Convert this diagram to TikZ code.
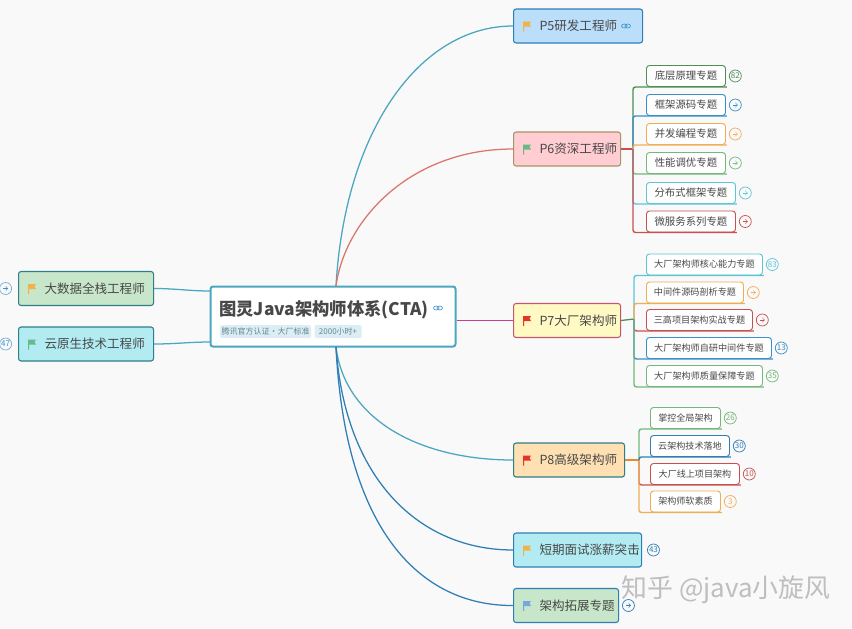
\documentclass[tikz,border=0pt]{standalone}
\usepackage{fontspec}
\setmainfont{Noto Sans CJK SC}
\usetikzlibrary{positioning}
\newlength\px
\setlength\px{0.75pt}
\definecolor{inkgray}{HTML}{484848}
\definecolor{pagegray}{HTML}{F9F9FA}
\definecolor{marktone}{HTML}{BEBEBE}
\definecolor{tealline}{HTML}{4BA6BF}
\definecolor{bluedeep}{HTML}{2F7FB5}
\definecolor{greendeep}{HTML}{4E8F55}
\definecolor{bluemid}{HTML}{3A8FC8}
\definecolor{orangesoft}{HTML}{EFAE55}
\definecolor{greensoft}{HTML}{74B87A}
\definecolor{cyansoft}{HTML}{5CC6D6}
\definecolor{redsoft}{HTML}{C9504F}
\definecolor{orangedeep}{HTML}{E8872E}
\definecolor{pinkline}{HTML}{C2408F}
\definecolor{salmonline}{HTML}{DB766B}
\definecolor{fillblue}{HTML}{BBDEFB}
\definecolor{fillpink}{HTML}{FFCDD2}
\definecolor{fillyellow}{HTML}{FFF9C4}
\definecolor{fillorange}{HTML}{FFE0B2}
\definecolor{fillcyan}{HTML}{B2EBF2}
\definecolor{fillgreen}{HTML}{C8E6C9}
\definecolor{edgeolive}{HTML}{A8936A}
\definecolor{edgerose}{HTML}{C4566E}
\definecolor{edgeteal}{HTML}{2F7F86}
\definecolor{flagorange}{HTML}{F2B24A}
\definecolor{flaggreen}{HTML}{66BB8A}
\definecolor{flagred}{HTML}{E5332A}
\definecolor{flagblue}{HTML}{74A8E0}
\definecolor{tagfill}{HTML}{DCEEF3}
\definecolor{tagtext}{HTML}{5E8796}
\newcommand{\golink}{\tikz\draw[-to,line width=.4pt](0,0)--(5\px,0);}
\tikzset{
topicbox/.style={rounded corners=2.5\px,line width=.8pt,inner xsep=0pt,inner ysep=0pt,minimum height=34\px,anchor=west,text=inkgray,font=\fontsize{9.4pt}{11pt}\selectfont},
subbox/.style={rounded corners=3\px,line width=.7pt,fill=white,inner sep=0pt,minimum height=21\px,anchor=west,text=inkgray,font=\fontsize{7.8pt}{9pt}\selectfont},
badge/.style={circle,line width=.55pt,inner sep=0pt,minimum size=12\px,font=\fontsize{6pt}{6pt}\selectfont},
tagbox/.style={fill=tagfill,text=tagtext,rounded corners=1.5\px,inner sep=0pt,minimum height=13\px,font=\fontsize{6pt}{7pt}\selectfont},
branch/.style={rounded corners=2.5\px,line width=1.05pt},
limb/.style={line width=.95pt},
}
\begin{document}
\begin{tikzpicture}[x=0.75pt,y=-0.75pt]
\useasboundingbox (0,0) rectangle (852,628);
\fill[pagegray] (0,0) rectangle (852,628);

\node[draw=tealline,line width=1.5pt,fill=white,rounded corners=2.5\px,inner sep=0pt,minimum width=245\px,minimum height=60\px](root) at (333,316.5){};
\node[anchor=west,inner sep=0pt,text=inkgray,font=\fontsize{13pt}{15pt}\selectfont\bfseries](roottitle) at (219,309.5){图灵Java架构师体系(CTA)};
\node[tagbox,minimum width=91\px](tagone) at (265.5,331.5){腾讯官方认证·大厂标准};
\node[tagbox,minimum width=47\px,right=3\px of tagone](tagtwo){2000小时+};
\coordinate (rootup) at (336,286);
\coordinate (rootdown) at (336,347);
\coordinate (rootleftup) at (210,291);
\coordinate (rootleftdown) at (210,342);

\foreach \n/\lab/\x/\y/\w/\f/\d/\k in {p5/P5研发工程师/513/26/129/fillblue/bluedeep/flagorange,p6/P6资深工程师/513/149/107/fillpink/edgeolive/flaggreen,p7/P7大厂架构师/513/320.5/107/fillyellow/edgerose/flagred,p8/P8高级架构师/513/460/111/fillorange/edgeteal/flagred,short/短期面试涨薪突击/513/550/128/fillcyan/bluedeep/flagorange,extend/架构拓展专题/513/605.5/105/fillgreen/bluedeep/flagblue,bigdata/大数据全栈工程师/18/288.5/135/fillgreen/edgeteal/flagorange,cloud/云原生技术工程师/18/344/135/fillcyan/edgeteal/flaggreen}{
\node[topicbox,fill=\f,draw=\d](\n) at (\x,\y){\makebox[\w\px][l]{\hspace{26\px}\raisebox{-1.5\px}{\lab}}};
\fill[\k,shift={(\n.west)}] (10,5.5)--(10,-4.5)--(18,-4.5)--(16.5,-2)--(18,.5)--(11,.5)--(11,5.5)--cycle;
}

\foreach \n/\lab/\y/\w/\c/\b in {a1/底层原理专题/76/79/greendeep/82,a2/框架源码专题/105/79/bluemid/\golink,a3/并发编程专题/134/79/orangesoft/\golink,a4/性能调优专题/163/79/greensoft/\golink,a5/分布式框架专题/193/89/cyansoft/\golink,a6/微服务系列专题/221.5/89/redsoft/\golink}{
\node[subbox,draw=\c,minimum width=\w\px](\n) at (646,\y){\lab};
\node[badge,draw=\c,text=\c,right=3\px of \n.east](m\n){\b};
}
\foreach \n/\lab/\y/\w/\c/\b in {b1/大厂架构师核心能力专题/264.5/116/cyansoft/83,b2/中间件源码剖析专题/292.5/97/orangesoft/\golink,b3/三高项目架构实战专题/320/106/redsoft/\golink,b4/大厂架构师自研中间件专题/348/125/bluemid/13,b5/大厂架构师质量保障专题/376/116/greensoft/35}{
\node[subbox,draw=\c,minimum width=\w\px,font=\fontsize{6.85pt}{9pt}\selectfont](\n) at (646,\y){\lab};
\node[badge,draw=\c,text=\c,right=3\px of \n.east](m\n){\b};
}
\foreach \n/\lab/\y/\w/\c/\b in {c1/掌控全局架构/418/70/greensoft/26,c2/云架构技术落地/446/79/bluedeep/30,c3/大厂线上项目架构/474/89/redsoft/10,c4/架构师软素质/501.5/70/orangesoft/3}{
\node[subbox,draw=\c,minimum width=\w\px,font=\fontsize{6.8pt}{9pt}\selectfont](\n) at (650,\y){\lab};
\node[badge,draw=\c,text=\c,right=3\px of \n.east](m\n){\b};
}

\coordinate (j6) at (633,149);
\coordinate (j7) at (634,319);
\coordinate (j8) at (639,460);
\draw[limb,redsoft] (p6.east)--(j6);
\draw[limb,greendeep] (p7.east)--(j7);
\draw[limb,orangedeep,line width=1.3pt] (p8.east)--(j8);
\foreach \n/\j/\c in {a1/j6/greendeep,a2/j6/bluemid,a3/j6/orangesoft,a4/j6/greensoft,a5/j6/cyansoft,a6/j6/redsoft,b1/j7/cyansoft,b2/j7/orangesoft,b3/j7/redsoft,b4/j7/bluemid,b5/j7/greensoft,c1/j8/greensoft,c2/j8/bluedeep,c3/j8/redsoft,c4/j8/orangesoft}{
\draw[branch,\c] (\j) |- ([xshift=1\px]\n.south east);
}

\draw[limb,tealline] (rootup) .. controls (345,130) and (420,26) .. (p5.west);
\draw[limb,salmonline] (rootup) .. controls (345,220) and (410,149) .. (p6.west);
\draw[limb,pinkline] (root.east |- p7.west)--(p7.west);
\draw[limb,tealline] (rootdown) .. controls (345,420) and (420,460) .. (p8.west);
\draw[limb,bluedeep] (rootdown) .. controls (345,480) and (420,550) .. (short.west);
\draw[limb,bluedeep] (rootdown) .. controls (345,530) and (420,606) .. (extend.west);
\draw[limb,tealline] (rootleftup) .. controls (190,291) and (175,288.5) .. (bigdata.east);
\draw[limb,tealline] (rootleftdown) .. controls (190,342) and (175,344) .. (cloud.east);

\node[badge,draw=bluemid!70!white,text=bluemid,left=6\px of bigdata.west](mbigdata){\golink};
\node[badge,draw=bluemid!70!white,text=bluemid,left=6\px of cloud.west](mcloud){47};
\node[badge,draw=bluedeep,text=bluedeep,right=5\px of short.east](mshort){43};
\node[badge,draw=bluedeep,text=bluedeep,right=3\px of extend.east](mextend){\golink};

\foreach \n/\x/\y in {linkroot/438/308,linkp5/626/26}{
\coordinate (\n) at (\x,\y);
\draw[bluemid,line width=.45pt] ([xshift=-1.7\px]\n) ellipse [x radius=2.8\px,y radius=2\px];
\draw[bluemid,line width=.45pt] ([xshift=1.7\px]\n) ellipse [x radius=2.8\px,y radius=2\px];
}

\node[text=marktone,inner sep=0pt,font=\fontsize{19.4pt}{21pt}\selectfont](watermark) at (726,590){知乎 @java小旋风};
\end{tikzpicture}
\end{document}
